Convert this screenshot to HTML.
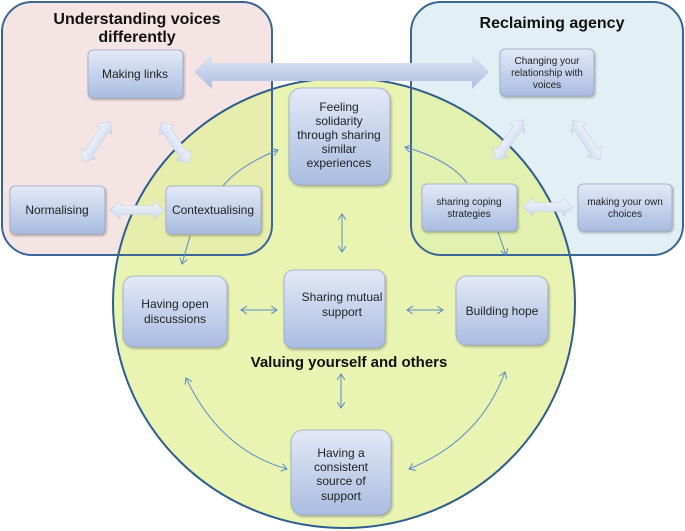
<!DOCTYPE html>
<html><head><style>html,body{margin:0;padding:0;background:#fff}svg{display:block}text{font-family:"Liberation Sans",sans-serif}</style></head><body>
<svg width="685" height="531" viewBox="0 0 685 531" xmlns="http://www.w3.org/2000/svg">
<defs>
<linearGradient id="nb" x1="0" y1="0" x2="0" y2="1"><stop offset="0" stop-color="#e3e9f7"/><stop offset="1" stop-color="#a9bce0"/></linearGradient>
<linearGradient id="ab" x1="0" y1="0" x2="0" y2="1"><stop offset="0" stop-color="#dfe6f5"/><stop offset="1" stop-color="#aebfe2"/></linearGradient>
<linearGradient id="sa" x1="0" y1="0" x2="0" y2="1"><stop offset="0" stop-color="#f4f6fb"/><stop offset="1" stop-color="#cfd9ee"/></linearGradient>
<marker id="m" markerWidth="8" markerHeight="8" refX="6" refY="4" orient="auto-start-reverse" markerUnits="userSpaceOnUse"><path d="M0,0 L6,4 L0,8" fill="none" stroke="#5a8cc6" stroke-width="1"/></marker>
<filter id="sh" x="-10%" y="-10%" width="130%" height="130%"><feDropShadow dx="1" dy="1.5" stdDeviation="1.2" flood-color="#000" flood-opacity="0.3"/></filter>
</defs>
<rect x="2" y="2" width="270" height="253" rx="30" fill="#f5e4e4"/>
<rect x="411" y="2" width="272" height="253" rx="30" fill="#e2eff4"/>
<ellipse cx="344" cy="303" rx="231" ry="225" fill="#e1f09a" fill-opacity="0.75" stroke="#2f5d8e" stroke-width="2"/>
<rect x="2" y="2" width="270" height="253" rx="30" fill="none" stroke="#3a6594" stroke-width="2"/>
<rect x="411" y="2" width="272" height="253" rx="30" fill="none" stroke="#3a6594" stroke-width="2"/>
<text x="137" y="24" font-size="16" font-weight="bold" text-anchor="middle" fill="#111">Understanding voices</text>
<text x="137" y="42" font-size="16" font-weight="bold" text-anchor="middle" fill="#111">differently</text>
<text x="552" y="28" font-size="16" font-weight="bold" text-anchor="middle" fill="#111">Reclaiming agency</text>
<path d="M194,72 L212,54 L212,63 L472,63 L472,54 L489,72 L472,89 L472,81 L212,81 L212,89 Z" fill="url(#ab)"/>
<g fill="url(#sa)" stroke="#c3cde3" stroke-width="0.6">
<g transform="translate(83,162) rotate(-56.6)"><path d="M0,0 L10,-9 L10,-4.5 L39,-4.5 L39,-9 L49,0 L39,9 L39,4.5 L10,4.5 L10,9 Z"/></g>
<g transform="translate(161,122) rotate(55.7)"><path d="M0,0 L10,-9 L10,-4.5 L40,-4.5 L40,-9 L50,0 L40,9 L40,4.5 L10,4.5 L10,9 Z"/></g>
<g transform="translate(110,210)"><path d="M0,0 L10,-9 L10,-4.5 L44,-4.5 L44,-9 L54,0 L44,9 L44,4.5 L10,4.5 L10,9 Z"/></g>
<g transform="translate(495,160) rotate(-55)"><path d="M0,0 L10,-9 L10,-4.5 L39,-4.5 L39,-9 L49,0 L39,9 L39,4.5 L10,4.5 L10,9 Z"/></g>
<g transform="translate(573,120) rotate(56)"><path d="M0,0 L10,-9 L10,-4.5 L38,-4.5 L38,-9 L48,0 L38,9 L38,4.5 L10,4.5 L10,9 Z"/></g>
<g transform="translate(523,207)"><path d="M0,0 L10,-9 L10,-4.5 L40,-4.5 L40,-9 L50,0 L40,9 L40,4.5 L10,4.5 L10,9 Z"/></g>
</g>
<g fill="none" stroke="#5a8cc6" stroke-width="1">
<path d="M222,187 Q240,165 278,150" marker-end="url(#m)"/>
<path d="M190,236 L182,264" marker-end="url(#m)"/>
<path d="M467,183 Q450,160 405,147" marker-end="url(#m)"/>
<path d="M498,232 L506,255" marker-end="url(#m)"/>
<path d="M342,214 L342,252" marker-start="url(#m)" marker-end="url(#m)"/>
<path d="M241,310 L277,310" marker-start="url(#m)" marker-end="url(#m)"/>
<path d="M407,310 L443,310" marker-start="url(#m)" marker-end="url(#m)"/>
<path d="M341,374 L341,408" marker-start="url(#m)" marker-end="url(#m)"/>
<path d="M186,378 Q220,450 287,469" marker-start="url(#m)" marker-end="url(#m)"/>
<path d="M505,372 Q480,440 409,469" marker-start="url(#m)" marker-end="url(#m)"/>
</g>
<g filter="url(#sh)" fill="url(#nb)" stroke="#9aa9c6" stroke-width="0.8">
<rect x="88" y="50" width="95" height="48" rx="5"/>
<rect x="10" y="186" width="95" height="48" rx="5"/>
<rect x="166" y="186" width="95" height="48" rx="5"/>
<rect x="289" y="88" width="101" height="97" rx="12"/>
<rect x="500" y="49" width="94" height="47" rx="5"/>
<rect x="422" y="184" width="95" height="47" rx="5"/>
<rect x="578" y="184" width="94" height="47" rx="5"/>
<rect x="123" y="276" width="104" height="71" rx="11"/>
<rect x="284" y="270" width="101" height="78" rx="9"/>
<rect x="456" y="276" width="92" height="69" rx="11"/>
<rect x="291" y="430" width="100" height="85" rx="12"/>
</g>
<g font-size="12" fill="#222" text-anchor="middle">
<text x="135" y="78">Making links</text>
<text x="57" y="214">Normalising</text>
<text x="213" y="214">Contextualising</text>
<text x="339" y="111">Feeling</text>
<text x="339" y="125">solidarity</text>
<text x="339" y="139">through sharing</text>
<text x="339" y="153">similar</text>
<text x="339" y="167">experiences</text>
<text x="342" y="301">Sharing mutual</text>
<text x="342" y="316">support</text>
<text x="175" y="308">Having open</text>
<text x="175" y="323">discussions</text>
<text x="502" y="315">Building hope</text>
<text x="341" y="457">Having a</text>
<text x="341" y="471">consistent</text>
<text x="341" y="485">source of</text>
<text x="341" y="500">support</text>
</g>
<g font-size="10" fill="#222" text-anchor="middle">
<text x="547" y="64">Changing your</text>
<text x="547" y="76">relationship with</text>
<text x="547" y="88">voices</text>
<text x="469" y="205">sharing coping</text>
<text x="469" y="217">strategies</text>
<text x="625" y="205">making your own</text>
<text x="625" y="217">choices</text>
</g>
<text x="349" y="367" font-size="15" font-weight="bold" text-anchor="middle" fill="#111">Valuing yourself and others</text>
</svg>
</body></html>
